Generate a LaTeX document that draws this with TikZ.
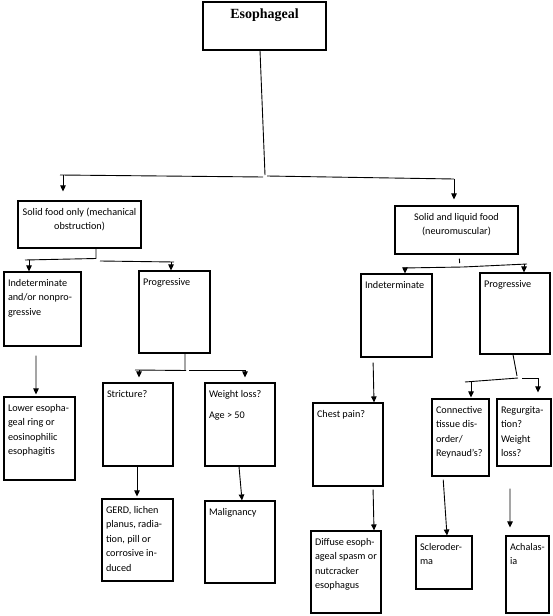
\documentclass[tikz,border=0pt]{standalone}
\usepackage{fontspec}
\setmainfont{Carlito}
\newfontfamily\tnrfont{Liberation Serif}
\usetikzlibrary{arrows.meta}
\newcommand\bxt[3]{\parbox[c][#2][t]{#1}{#3}}
\begin{document}
\begin{tikzpicture}[x=1bp,y=-1bp,
  bx/.style={draw, line width=1.1bp, inner xsep=4bp, inner ysep=7bp,
    font=\fontsize{10.2bp}{14.5bp}\selectfont},
  ln/.style={line width=0.9bp},
  arr/.style={ln, -{Triangle[length=6bp,width=5.5bp]}}]
\useasboundingbox (0,0) rectangle (553,616);
\fill[white] (0,0) rectangle (553,616);
% boxes
\node[bx, font=\fontsize{14bp}{16bp}\selectfont\tnrfont\bfseries] (eso) at (264.5,26) {\bxt{115bp}{34bp}{\centering Esophageal\par}};
\node[bx] (solid) at (79.5,224.5) {\bxt{115bp}{33bp}{\centering Solid food only (mechanical\\obstruction)\par}};
\node[bx] (liquid) at (456.5,230) {\bxt{115bp}{34bp}{\centering Solid and liquid food\\(neuromuscular)\par}};
\node[bx] (ind1) at (42.5,309) {\bxt{69bp}{60bp}{\raggedright Indeterminate\\and/or nonpro-\\gressive\par}};
\node[bx] (prog1) at (174.5,312) {\bxt{63bp}{68bp}{\raggedright Progressive\par}};
\node[bx] (ind2) at (396.5,315.5) {\bxt{63bp}{69bp}{\raggedright Indeterminate\par}};
\node[bx] (prog2) at (515,313.5) {\bxt{62bp}{67bp}{\raggedright Progressive\par}};
\node[bx] (lower) at (39.5,438.5) {\bxt{63bp}{69bp}{\raggedright Lower esopha-\\geal ring or\\eosinophilic\\esophagitis\par}};
\node[bx] (strict) at (138,424.5) {\bxt{62bp}{69bp}{\raggedright Stricture?\par}};
\node[bx] (wloss) at (240,424.5) {\bxt{62bp}{69bp}{\raggedright Weight loss?\\[6.5bp]Age > 50\par}};
\node[bx] (gerd) at (137.5,540) {\bxt{63bp}{68bp}{\raggedright GERD, lichen\\planus, radia-\\tion, pill or\\corrosive in-\\duced\par}};
\node[bx] (malig) at (240,542) {\bxt{62bp}{68bp}{\raggedright Malignancy\par}};
\node[bx] (chest) at (348,444.5) {\bxt{62bp}{69bp}{\raggedright Chest pain?\par}};
\node[bx] (diffuse) at (346,572) {\bxt{62bp}{68bp}{\raggedright Diffuse esoph-\\ageal spasm or\\nutcracker\\esophagus\par}};
\node[bx] (conn) at (460.5,437.5) {\bxt{49bp}{63bp}{\raggedright Connective\\tissue dis-\\order/\\Reynaud’s?\par}};
\node[bx] (regurg) at (524,432.5) {\bxt{46bp}{53bp}{\raggedright Regurgita-\\tion?\\Weight\\loss?\par}};
\node[bx] (sclero) at (444,562.5) {\bxt{48bp}{39bp}{\raggedright Scleroder-\\ma\par}};
\node[bx] (achal) at (527.5,574.5) {\bxt{35bp}{63bp}{\raggedright Achalas-\\ia\par}};
% top split
\coordinate (t0) at (265,175);
\coordinate (tL) at (60,175);
\coordinate (tA) at (63,175.2);
\coordinate (tG1) at (263,177);
\coordinate (tG2) at (267,176);
\coordinate (tR) at (454,179);
\draw[ln] ([xshift=-4.5bp]eso.south) -- (t0);
\draw[ln] (tL) -- (tG1);
\draw[ln] (tG2) -- (tR);
\draw[arr, shorten >=9bp] (tA) -- (tA |- solid.north);
\draw[arr, shorten >=6bp] (tR) -- (tR |- liquid.north);
% solid split
\coordinate (s0) at (96,258.5);
\coordinate (sL) at (25,260);
\coordinate (sA1) at (29,259.8);
\coordinate (sG) at (100,261);
\coordinate (sR) at (174,262);
\coordinate (sA2) at (171,262);
\draw[ln] ([xshift=16.5bp]solid.south) -- (s0);
\draw[ln] (sL) -- (s0);
\draw[ln] (sG) -- (sR);
\draw[arr] (sA1) -- (sA1 |- ind1.north);
\draw[arr] (sA2) -- (sA2 |- prog1.north);
% liquid split
\coordinate (l0) at (460,267);
\coordinate (lL) at (403,268);
\coordinate (lA1) at (405,268);
\coordinate (lM) at (463,267);
\coordinate (lR) at (527,264);
\coordinate (lA2) at (524,264.2);
\draw[ln, shorten <=4bp, shorten >=4bp] ([xshift=2.5bp]liquid.south) -- (l0);
\draw[ln] (lL) -- (lM) -- (lR);
\draw[arr] (lA1) -- (lA1 |- ind2.north);
\draw[arr] (lA2) -- (lA2 |- prog2.north);
% progressive (left) split
\coordinate (p0) at (185,370);
\coordinate (pL) at (135,370);
\coordinate (pA1) at (139,370);
\coordinate (pG1) at (186,370.5);
\coordinate (pG2) at (189,370);
\coordinate (pR) at (246,370);
\coordinate (pA2) at (245,370);
\draw[ln] ([xshift=10.5bp]prog1.south) -- (p0);
\draw[ln] (pL) -- (pG1);
\draw[ln] (pG2) -- (pR);
\draw[arr, shorten >=5bp] (pA1) -- (pA1 |- strict.north);
\draw[arr, shorten >=5bp] (pA2) -- (pA2 |- wloss.north);
% progressive (right) split
\coordinate (q0) at (517,376);
\coordinate (qL) at (465,382);
\coordinate (qA1) at (471,381.3);
\coordinate (qG1) at (518,378);
\coordinate (qG2) at (522,378);
\coordinate (qR) at (538,378);
\draw[ln] ([xshift=-2bp]prog2.south) -- (q0);
\draw[ln] (qL) -- (qG1);
\draw[ln] (qG2) -- (qR);
\draw[arr, shorten >=1bp] (qA1) -- (qA1 |- conn.north);
\draw[arr, shorten >=6bp] (qR) -- (qR |- regurg.north);
% single arrows
\draw[arr, shorten <=9bp, shorten >=2bp] ([xshift=-6.5bp]ind1.south) -- ([xshift=-3.5bp]lower.north);
\draw[arr, shorten >=2bp] ([xshift=-1bp]strict.south) -- ([xshift=-0.5bp]gerd.north);
\draw[arr] ([xshift=-1bp]wloss.south) -- ([xshift=2bp]malig.north);
\draw[arr, shorten <=5bp] ([xshift=-23.5bp]ind2.south) -- ([xshift=26bp]chest.north);
\draw[arr, shorten <=3bp] ([xshift=25bp]chest.south) -- ([xshift=28bp]diffuse.north);
\draw[arr, shorten <=3bp] ([xshift=-17.5bp]conn.south) -- ([xshift=3bp]sclero.north);
\draw[arr, shorten <=22bp, shorten >=8bp] ([xshift=-14bp]regurg.south) -- ([xshift=-17.5bp]achal.north);
\end{tikzpicture}
\end{document}
